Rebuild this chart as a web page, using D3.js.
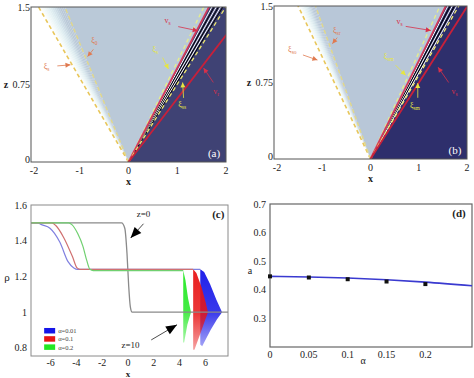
<!DOCTYPE html>
<html><head><meta charset="utf-8">
<script src="https://cdn.jsdelivr.net/npm/d3@7"></script>
<style>
body{margin:0;background:#fff}
svg{display:block}
text{font-family:"Liberation Serif","DejaVu Serif",serif;fill:#222}
</style>
</head><body>
<svg id="chart" width="474" height="378"></svg>
<script>
// ---------- DATA ----------
// Panels (a),(b): rays x = slope * z
const coneXTicks = [-2, -1, 0, 1, 2];
const coneZTicks = [0, 0.75, 1.5];
const aSlopes = {outer: -1.23, inner: -0.87, light: 1.03, vs: 1.10, fan: [1.14, 1.17, 1.20, 1.23, 1.26, 1.29], fanDash: 1.33, lower: 1.63};
const bSlopes = {outer: -1.00, inner: -0.76, light: 0.96, vs: 1.04, fan: [1.07, 1.10, 1.13, 1.16, 1.19], fanDash: 1.22, lower: 1.34};
// annotations: [label, sub, textX, textZ, fromX, fromZ, toX, toZ, colour]
const aNotes = [
  ["v", "s", 0.80, 1.35, 1.02, 1.31, 1.42, 1.27, "#d8304a"],
  ["ξ", "s", 0.55, 1.06, 0.70, 1.01, 0.82, 0.90, "#e6e640"],
  ["v", "r", 1.80, 0.66, 1.74, 0.77, 1.54, 0.91, "#d8304a"],
  ["ξ", "ss", 1.10, 0.53, 1.13, 0.62, 1.11, 0.77, "#e6e640"],
  ["ξ", "s", -1.68, 0.90, -1.46, 0.93, -1.19, 0.94, "#e07a50"],
  ["ξ", "0", -0.70, 1.15, -0.72, 1.09, -0.84, 1.02, "#e07a50"]
];
const bNotes = [
  ["v", "s", 0.60, 1.32, 0.73, 1.30, 1.25, 1.26, "#d8304a"],
  ["ξ", "so", -1.62, 1.05, -1.40, 1.02, -1.10, 0.97, "#e07a50"],
  ["ξ", "sr", -0.70, 1.24, -0.69, 1.19, -0.79, 1.13, "#e07a50"],
  ["ξ", "sm", 0.38, 0.98, 0.52, 0.92, 0.73, 0.82, "#e6e640"],
  ["ξ", "sm", 0.92, 0.50, 0.98, 0.60, 0.98, 0.745, "#e6e640"],
  ["v", "s", 1.74, 0.64, 1.62, 0.75, 1.40, 0.90, "#d8304a"]
];

// Panel (c): density profiles rho(x)
const cXTicks = [-6, -4, -2, 0, 2, 4, 6];
const cYTicks = [0.8, 1, 1.2, 1.4, 1.6];
const profileZ0 = [[-7.52,1.5],[-0.5,1.5],[-0.25,1.47],[-0.08,1.33],[0.05,1.15],[0.18,1.03],[0.32,1.0],[7.75,1.0]];
const profileBlue = [[-7.52,1.5],[-7.0,1.5],[-6.7,1.49],[-6.05,1.47],[-5.27,1.39],[-4.65,1.283],[-4.2,1.248],[-3.9,1.24],[5.6,1.24]];
const profileRed = [[-7.52,1.5],[-5.9,1.5],[-5.6,1.485],[-5.0,1.42],[-4.3,1.31],[-3.95,1.248],[-3.7,1.24],[5.05,1.24]];
const profileGreen = [[-7.52,1.5],[-4.6,1.5],[-4.35,1.49],[-3.9,1.44],[-3.5,1.37],[-3.2,1.29],[-2.95,1.24],[-2.7,1.233],[4.28,1.233]];
const fanBlueTop = [[5.6,1.24],[5.9,1.225],[6.35,1.16],[6.85,1.07],[7.29,1.0]];
const fanBlueBottom = [[5.6,0.82],[5.75,0.81],[6.4,0.90],[6.9,0.96],[7.29,1.0]];
const fanRedTop = [[5.05,1.24],[5.3,1.22],[5.7,1.14],[6.0,1.06],[6.2,1.0]];
const fanRedBottom = [[5.05,0.79],[5.15,0.79],[5.6,0.88],[6.0,0.96],[6.2,1.0]];
const fanGreenTop = [[4.28,1.233],[4.45,1.18],[4.65,1.08],[4.88,1.0]];
const fanGreenBottom = [[4.28,0.83],[4.35,0.83],[4.6,0.93],[4.88,1.0]];
const legendLabels = ["α=0.01", "α=0.1", "α=0.2"];
const legendColors = ["#1515e8", "#e81515", "#22e822"];

// Panel (d)
const dXTicks = [0, 0.05, 0.1, 0.15, 0.2];
const dYTicks = [0.3, 0.4, 0.5, 0.6, 0.7];
const dLineAlpha = [0, 0.05, 0.1, 0.15, 0.2, 0.26];
const dLineA = [0.447, 0.445, 0.441, 0.435, 0.427, 0.414];
const dPointAlpha = [0, 0.05, 0.1, 0.15, 0.2];
const dPointA = [0.447, 0.443, 0.437, 0.429, 0.420];

// ---------- DRAW ----------
const svg = d3.select("#chart");
const defs = svg.append("defs");

function arrowHead(g, x1, y1, x2, y2, color, len, wid, lw) {
  g.append("line").attr("x1", x1).attr("y1", y1).attr("x2", x2).attr("y2", y2)
    .attr("stroke", color).attr("stroke-width", lw);
  const ang = Math.atan2(y2 - y1, x2 - x1);
  const bx = x2 - len * Math.cos(ang), by = y2 - len * Math.sin(ang);
  const px = -Math.sin(ang) * wid / 2, py = Math.cos(ang) * wid / 2;
  g.append("path").attr("d", `M${x2},${y2}L${bx + px},${by + py}L${bx - px},${by - py}Z`).attr("fill", color);
}

function cone(id, box, s, notes, lightCol, darkCol, panelLabel) {
  const x = d3.scaleLinear().domain([-2, 2]).range([box.l, box.r]);
  const z = d3.scaleLinear().domain([0, 1.5]).range([box.b, box.t]);
  defs.append("clipPath").attr("id", "clip" + id).append("rect")
    .attr("x", box.l).attr("y", box.t).attr("width", box.r - box.l).attr("height", box.b - box.t);
  const g = svg.append("g");
  const pg = g.append("g").attr("clip-path", `url(#clip${id})`);
  const zt = 1.6;
  const pt = (sl, zz) => [x(sl * zz), z(zz)];
  const poly = pts => "M" + pts.map(p => p.join(",")).join("L") + "Z";
  pg.append("rect").attr("x", box.l).attr("y", box.t).attr("width", box.r - box.l).attr("height", box.b - box.t).attr("fill", "#fff");
  // gradient wedges between outer and inner dashed rays
  const grad = d3.interpolateRgbBasis(["#ffffff", "#eef8f8", "#d6e8ee", lightCol]);
  const N = 14;
  for (let i = 0; i < N; i++) {
    const s0 = s.outer + (s.inner - s.outer) * i / N;
    const s1 = s.outer + (s.inner - s.outer) * (i + 1.05) / N;
    pg.append("path").attr("d", poly([pt(0, 0), pt(s0, zt), pt(s1, zt)])).attr("fill", grad(Math.min(1, (i + 0.5) / (N * 0.8))));
  }
  pg.append("path").attr("d", poly([pt(0, 0), pt(s.inner, zt), pt(s.vs, zt)])).attr("fill", lightCol);
  pg.append("path").attr("d", poly([pt(0, 0), pt(s.vs, zt), [box.r + 5, z(zt)], [box.r + 5, box.b]])).attr("fill", darkCol);
  const ray = (sl, col, w, dash) => {
    const l = pg.append("line").attr("x1", x(0)).attr("y1", z(0)).attr("x2", x(sl * zt)).attr("y2", z(zt))
      .attr("stroke", col).attr("stroke-width", w);
    if (dash) l.attr("stroke-dasharray", dash);
  };
  ray(s.outer, "#e8c65a", 1.6, "4,3");
  ray(s.inner, "#e2d88a", 1.4, "4,3");
  ray(s.light, "#e6ef8a", 1.3, "4,3");
  s.fan.forEach((sl, i) => ray(sl, i % 2 === 0 ? "#ffffff" : "#000000", 1));
  ray(s.vs, "#d23a5a", 1.8);
  ray(s.fanDash, "#f0ea70", 1.3, "4,3");
  ray(s.lower, "#c8203a", 1.8);
  // frame
  g.append("rect").attr("x", box.l).attr("y", box.t).attr("width", box.r - box.l).attr("height", box.b - box.t)
    .attr("fill", "none").attr("stroke", "#555").attr("stroke-width", 1);
  // ticks labels
  coneXTicks.forEach(v => g.append("text").attr("x", x(v) + (v === -2 ? 3 : 0)).attr("y", box.b + 12).attr("text-anchor", "middle").attr("font-size", 10).text(v));
  coneZTicks.forEach(v => g.append("text").attr("x", box.l - 1).attr("y", z(v) + (v === 0 ? 1 : 3.5)).attr("text-anchor", "end").attr("font-size", 10).text(v));
  g.append("text").attr("x", x(0)).attr("y", box.b + 23).attr("text-anchor", "middle").attr("font-size", 10).attr("font-weight", "bold").text("x");
  g.append("text").attr("x", box.l - 25).attr("y", z(0.75) + 3.5).attr("text-anchor", "middle").attr("font-size", 10).attr("font-weight", "bold").text("z");
  g.append("text").attr("x", box.r - 12).attr("y", box.b - 5).attr("text-anchor", "middle").attr("font-size", 11).attr("font-family", "Liberation Sans").style("fill", "#fff").text(panelLabel);
  notes.forEach(n => {
    const t = g.append("text").attr("x", x(n[2])).attr("y", z(n[3])).attr("text-anchor", "middle").attr("font-size", 8).style("fill", n[8]);
    t.append("tspan").text(n[0]);
    t.append("tspan").attr("font-size", 5.5).attr("dy", 2).text(n[1]);
    arrowHead(g, x(n[4]), z(n[5]), x(n[6]), z(n[7]), n[8], 5, 5, 0.8);
  });
}

cone("a", {l: 31, r: 226, t: 7, b: 162}, aSlopes, aNotes, "#bac9d8", "#3f4274", "(a)");
cone("b", {l: 274, r: 467, t: 6, b: 159}, bSlopes, bNotes, "#b8c7d8", "#2e2f6c", "(b)");

// ---------- Panel (c) ----------
(function () {
  const box = {l: 31, r: 228, t: 205, b: 356};
  const x = d3.scaleLinear().domain([-7.52, 7.75]).range([box.l, box.r]);
  const y = d3.scaleLinear().domain([0.755, 1.6]).range([box.b, box.t]);
  const g = svg.append("g");
  defs.append("clipPath").attr("id", "clipc").append("rect")
    .attr("x", box.l).attr("y", box.t).attr("width", box.r - box.l).attr("height", box.b - box.t);
  const pg = g.append("g").attr("clip-path", "url(#clipc)");
  const line = d3.line().x(d => x(d[0])).y(d => y(d[1])).curve(d3.curveMonotoneX);
  const fans = [[fanBlueTop, fanBlueBottom, legendColors[0]], [fanRedTop, fanRedBottom, legendColors[1]], [fanGreenTop, fanGreenBottom, legendColors[2]]];
  fans.forEach((f, i) => {
    const gid = "fg" + i;
    const lg = defs.append("linearGradient").attr("id", gid).attr("x1", 0).attr("y1", 0).attr("x2", 0).attr("y2", 1);
    lg.append("stop").attr("offset", "0").attr("stop-color", f[2]).attr("stop-opacity", 0.95);
    lg.append("stop").attr("offset", "0.55").attr("stop-color", f[2]).attr("stop-opacity", 0.85);
    lg.append("stop").attr("offset", "1").attr("stop-color", f[2]).attr("stop-opacity", 0.4);
    const pts = f[0].concat(f[1].slice().reverse());
    pg.append("path").attr("d", "M" + pts.map(p => x(p[0]) + "," + y(p[1])).join("L") + "Z").attr("fill", `url(#${gid})`);
  });
  pg.append("path").attr("d", line(profileZ0)).attr("fill", "none").attr("stroke", "#8a8a8a").attr("stroke-width", 1.3);
  pg.append("path").attr("d", line(profileBlue)).attr("fill", "none").attr("stroke", "#8080e0").attr("stroke-width", 1.2);
  pg.append("path").attr("d", line(profileRed)).attr("fill", "none").attr("stroke", "#d07070").attr("stroke-width", 1.2);
  pg.append("path").attr("d", line(profileGreen)).attr("fill", "none").attr("stroke", "#70d070").attr("stroke-width", 1.2);
  g.append("rect").attr("x", box.l).attr("y", box.t).attr("width", box.r - box.l).attr("height", box.b - box.t)
    .attr("fill", "none").attr("stroke", "#8a8a8a").attr("stroke-width", 1);
  cXTicks.forEach(v => g.append("text").attr("x", x(v)).attr("y", box.b + 10).attr("text-anchor", "middle").attr("font-size", 10).text(v));
  cYTicks.forEach(v => g.append("text").attr("x", box.l - 4).attr("y", y(v) + 3.5).attr("text-anchor", "end").attr("font-size", 10).text(v));
  g.append("text").attr("x", x(0)).attr("y", box.b + 20.5).attr("text-anchor", "middle").attr("font-size", 9).attr("font-weight", "bold").text("x");
  g.append("text").attr("x", 7).attr("y", y(1.2) + 5).attr("text-anchor", "middle").attr("font-size", 11).text("ρ");
  g.append("text").attr("x", x(7.0)).attr("y", y(1.55) + 4).attr("text-anchor", "middle").attr("font-size", 11).attr("font-weight", "bold").text("(c)");
  g.append("text").attr("x", x(1.2)).attr("y", y(1.535)).attr("text-anchor", "middle").attr("font-size", 9).text("z=0");
  arrowHead(g, x(1.2), y(1.495), x(0.2), y(1.415), "#000", 11, 9, 0.7);
  g.append("text").attr("x", x(0.2)).attr("y", y(0.80)).attr("text-anchor", "middle").attr("font-size", 9).text("z=10");
  arrowHead(g, x(1.8), y(0.845), x(3.8), y(0.93), "#000", 11, 9, 0.7);
  legendLabels.forEach((lab, i) => {
    const yy = y(0.895) + i * 8.2;
    g.append("rect").attr("x", x(-6.5)).attr("y", yy - 3).attr("width", 11).attr("height", 5.5).attr("fill", legendColors[i]);
    g.append("text").attr("x", x(-6.5) + 14).attr("y", yy + 2.3).attr("font-size", 6.5).attr("font-family", "Liberation Sans").style("fill", "#444").text(lab);
  });
})();

// ---------- Panel (d) ----------
(function () {
  const box = {l: 270, r: 472, t: 204, b: 347};
  const x = d3.scaleLinear().domain([0, 0.26]).range([box.l, box.r]);
  const y = d3.scaleLinear().domain([0.2, 0.7]).range([box.b, box.t]);
  const g = svg.append("g");
  g.append("rect").attr("x", box.l).attr("y", box.t).attr("width", box.r - box.l).attr("height", box.b - box.t)
    .attr("fill", "none").attr("stroke", "#666").attr("stroke-width", 1.2);
  const line = d3.line().x((d, i) => x(dLineAlpha[i])).y(d => y(d)).curve(d3.curveMonotoneX);
  g.append("path").attr("d", line(dLineA)).attr("fill", "none").attr("stroke", "#3a3ad0").attr("stroke-width", 1.6);
  g.selectAll(".pt").data(dPointA).enter().append("rect")
    .attr("x", (d, i) => x(dPointAlpha[i]) - 2).attr("y", d => y(d) - 2).attr("width", 4).attr("height", 4).attr("fill", "#111");
  dXTicks.forEach(v => g.append("text").attr("x", x(v)).attr("y", box.b + 11).attr("text-anchor", "middle").attr("font-size", 10).text(v));
  dYTicks.forEach(v => g.append("text").attr("x", box.l - 4).attr("y", y(v) + 3.5).attr("text-anchor", "end").attr("font-size", 10).text(v));
  g.append("text").attr("x", x(0.12)).attr("y", box.b + 17).attr("text-anchor", "middle").attr("font-size", 10).text("α");
  g.append("text").attr("x", 250).attr("y", y(0.455)).attr("text-anchor", "middle").attr("font-size", 10).text("a");
  g.append("text").attr("x", box.r - 13).attr("y", box.t + 13).attr("text-anchor", "middle").attr("font-size", 11).attr("font-weight", "bold").text("(d)");
})();
</script>
</body></html>
